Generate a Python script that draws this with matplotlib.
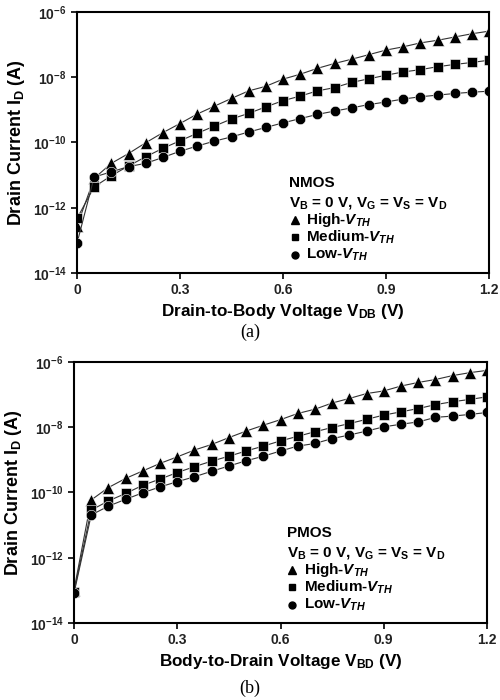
import numpy as np
import matplotlib
matplotlib.use("Agg")
import matplotlib.pyplot as plt
from matplotlib.ticker import LogFormatterMathtext, NullLocator

plt.rcParams['font.family'] = ['Liberation Sans', 'DejaVu Sans']
plt.rcParams['mathtext.fontset'] = 'custom'
plt.rcParams['mathtext.rm'] = 'Liberation Sans:bold'
plt.rcParams['mathtext.it'] = 'Liberation Sans:italic:bold'
plt.rcParams['mathtext.bf'] = 'Liberation Sans:bold'

# bias voltage (V), same for both panels
vbias = [0.0, 0.05, 0.1, 0.15, 0.2, 0.25, 0.3, 0.35, 0.4, 0.45, 0.5, 0.55, 0.6,
         0.65, 0.7, 0.75, 0.8, 0.85, 0.9, 0.95, 1.0, 1.05, 1.1, 1.15, 1.2]

# NMOS, log10(ID)
nmos_high = [-12.56, -11.10, -10.64, -10.34, -10.01, -9.70, -9.42, -9.13, -8.89, -8.65,
             -8.42, -8.28, -8.06, -7.91, -7.73, -7.58, -7.45, -7.31, -7.17, -7.07,
             -6.95, -6.87, -6.77, -6.67, -6.59]
nmos_med = [-12.33, -11.36, -11.02, -10.72, -10.44, -10.18, -9.95, -9.72, -9.50, -9.28,
            -9.11, -8.91, -8.72, -8.58, -8.42, -8.32, -8.16, -8.05, -7.94, -7.84,
            -7.77, -7.68, -7.61, -7.55, -7.48]
nmos_low = [-13.09, -11.06, -10.90, -10.74, -10.64, -10.46, -10.27, -10.11, -9.96, -9.83,
            -9.68, -9.54, -9.40, -9.27, -9.14, -9.04, -8.94, -8.84, -8.76, -8.67,
            -8.60, -8.55, -8.50, -8.46, -8.43]

# PMOS, log10(ID)
pmos_high = [-12.99, -10.23, -9.85, -9.57, -9.34, -9.11, -8.91, -8.70, -8.53, -8.32,
             -8.12, -7.94, -7.77, -7.58, -7.45, -7.26, -7.12, -6.97, -6.89, -6.74,
             -6.63, -6.54, -6.42, -6.33, -6.26]
pmos_med = [-13.04, -10.54, -10.26, -10.03, -9.78, -9.59, -9.39, -9.21, -9.04, -8.89,
            -8.73, -8.58, -8.42, -8.28, -8.14, -8.01, -7.89, -7.76, -7.63, -7.53,
            -7.43, -7.31, -7.22, -7.15, -7.07]
pmos_low = [-13.09, -10.69, -10.42, -10.21, -10.01, -9.83, -9.67, -9.52, -9.35, -9.19,
            -9.03, -8.89, -8.73, -8.58, -8.50, -8.35, -8.24, -8.12, -7.99, -7.91,
            -7.84, -7.70, -7.66, -7.61, -7.55]

series_names = ['High-$V_{TH}$', 'Medium-$V_{TH}$', 'Low-$V_{TH}$']
series_markers = ['^', 's', 'o']
marker_sizes = [8, 7, 7.5]

fig = plt.figure(figsize=(5, 7), dpi=100)


def draw_panel(ax, curves, dev, xlabel):
	x = np.array(vbias)
	for vals, mk, ms in zip(curves, series_markers, marker_sizes):
		ax.plot(x, 10 ** np.array(vals), color='#333333', lw=0.8,
			marker=mk, ms=ms, mfc='black', mec='white', mew=0.4)
	ax.set_yscale('log')
	ax.set_ylim(1e-14, 1e-6)
	ax.set_xlim(0, 1.2)
	ax.set_yticks([1e-14, 1e-12, 1e-10, 1e-8, 1e-6])
	ax.yaxis.set_major_formatter(LogFormatterMathtext())
	ax.yaxis.set_minor_locator(NullLocator())
	ax.set_xticks([0, 0.3, 0.6, 0.9, 1.2])
	ax.set_xticklabels(['0', '0.3', '0.6', '0.9', '1.2'])
	for sp in ax.spines.values():
		sp.set_linewidth(1.5)
	ax.tick_params(direction='out', length=4, width=1.2, labelsize=10)
	for lab in ax.get_xticklabels() + ax.get_yticklabels():
		lab.set_fontweight('bold')
		lab.set_color('#222222')
	ax.set_ylabel('Drain Current I$_{\\mathrm{D}}$ (A)', fontsize=13, fontweight='bold', labelpad=4)
	ax.set_xlabel(xlabel, fontsize=12.3, fontweight='bold', labelpad=3)

	# legend block
	ax.text(0.515, 0.345, dev, transform=ax.transAxes, fontsize=11, fontweight='bold', va='center')
	ax.text(0.515, 0.268, 'V$_{\\mathrm{B}}$ = 0 V, V$_{\\mathrm{G}}$ = V$_{\\mathrm{S}}$ = V$_{\\mathrm{D}}$',
		transform=ax.transAxes, fontsize=11, fontweight='bold', va='center')
	rows = [0.203, 0.136, 0.069]
	for name, mk, yy in zip(series_names, series_markers, rows):
		ax.plot([0.528], [yy], transform=ax.transAxes, ls='none', marker=mk,
			color='black', ms=6 if mk == '^' else 5, clip_on=False)
		ax.text(0.557, yy, name, transform=ax.transAxes, fontsize=11,
			fontweight='bold', va='center')


ax1 = fig.add_axes([0.154, 0.61, 0.824, 0.373])
draw_panel(ax1, [nmos_high, nmos_med, nmos_low], 'NMOS',
	'Drain-to-Body Voltage V$_{\\mathrm{DB}}$ (V)')
fig.text(0.5, 0.525, '(a)', ha='center', va='center', fontsize=13, family='Liberation Serif')

ax2 = fig.add_axes([0.148, 0.11, 0.826, 0.373])
draw_panel(ax2, [pmos_high, pmos_med, pmos_low], 'PMOS',
	'Body-to-Drain Voltage V$_{\\mathrm{BD}}$ (V)')
fig.text(0.5, 0.017, '(b)', ha='center', va='center', fontsize=13, family='Liberation Serif')

fig.savefig('out.png', dpi=100)
